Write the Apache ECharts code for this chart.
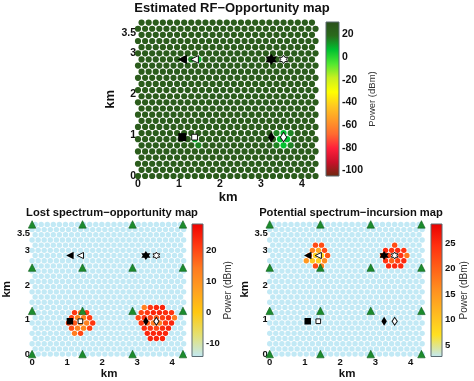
<!DOCTYPE html>
<html>
<head>
<meta charset="utf-8">
<style>
  html, body { margin: 0; padding: 0; background: #fff; }
  #chart { width: 474px; height: 381px; }
</style>
<script src="https://cdn.jsdelivr.net/npm/echarts@6/dist/echarts.min.js"></script>
</head>
<body>
<div id="chart"></div>
<script>
// hex grid, km
const rowKm = [0, 0.15, 0.3, 0.45, 0.6, 0.75, 0.9, 1.05, 1.2, 1.35, 1.5, 1.65, 1.8, 1.95, 2.1, 2.25, 2.4, 2.55, 2.7, 2.85, 3.0, 3.15, 3.3, 3.45, 3.6, 3.75];
const evenColKm = [0, 0.173, 0.346, 0.52, 0.693, 0.866, 1.039, 1.212, 1.386, 1.559, 1.732, 1.905, 2.078, 2.252, 2.425, 2.598, 2.771, 2.944, 3.118, 3.291, 3.464, 3.637, 3.81, 3.984, 4.157, 4.33];
const oddColKm = [0.087, 0.26, 0.433, 0.606, 0.779, 0.953, 1.126, 1.299, 1.472, 1.645, 1.819, 1.992, 2.165, 2.338, 2.511, 2.685, 2.858, 3.031, 3.204, 3.377, 3.55, 3.724, 3.897, 4.07, 4.243];

// level of every cell not listed below, dBm
const estimatedLevel = 25;
const lostLevel = -14.3;
const incursionLevel = 2.85;

// [row, col, dBm]
const estimatedCells = [
  [19, 7, 15], [19, 8, 8], [19, 20, 14],
  [6, 8, 10], [5, 8, 15],
  [7, 20, 6], [6, 20, 6], [6, 21, 6], [5, 20, 6], [7, 19, 15], [7, 21, 15], [5, 19, 15], [5, 21, 15]
];
const lostCells = [
  [8, 7, 22], [8, 8, 15], [8, 9, 22],
  [7, 6, 20], [7, 7, 12], [7, 8, 13], [7, 9, 21],
  [6, 6, 20], [6, 7, 18], [6, 8, 12], [6, 9, 13], [6, 10, 22],
  [5, 6, 19], [5, 7, 13], [5, 8, 12], [5, 9, 21],
  [4, 7, 14], [4, 8, 20],
  [9, 18, 13], [9, 19, 22], [9, 20, 24], [9, 21, 24],
  [8, 18, 20], [8, 19, 22], [8, 20, 24], [8, 21, 24], [8, 22, 23], [8, 23, 22],
  [7, 17, 20], [7, 18, 22], [7, 19, 21], [7, 20, 18], [7, 21, 21], [7, 22, 23], [7, 23, 14],
  [6, 18, 22], [6, 19, 18], [6, 20, 14], [6, 21, 14], [6, 22, 22], [6, 23, 24],
  [5, 18, 23], [5, 19, 22], [5, 20, 20], [5, 21, 23], [5, 22, 24],
  [4, 19, 24], [4, 20, 24], [4, 21, 24], [4, 22, 24],
  [3, 19, 24], [3, 20, 24], [3, 21, 24]
];
const incursionCells = [
  [21, 7, 22], [21, 8, 22],
  [20, 7, 17], [20, 8, 13], [20, 9, 22],
  [19, 6, 20], [19, 7, 9], [19, 8, 8], [19, 9, 21],
  [18, 6, 15], [18, 7, 10], [18, 8, 9], [18, 9, 16],
  [17, 7, 22], [17, 8, 17],
  [21, 20, 22],
  [20, 19, 25], [20, 20, 24], [20, 21, 25], [20, 22, 24],
  [19, 18, 20], [19, 19, 23], [19, 20, 18], [19, 21, 24], [19, 22, 18],
  [18, 19, 24], [18, 20, 20], [18, 21, 23], [18, 22, 25],
  [17, 19, 25], [17, 20, 25], [17, 21, 25]
];

const stationX = [0, 1.44, 2.87, 4.31];
const stationY = [0, 1.25, 2.5, 3.75];

// [x km, y km]
const squarePair = [[1.08, 0.95], [1.38, 0.95]];
const diamondPair = [[3.25, 0.95], [3.55, 0.95]];
const trianglePair = [[1.08, 2.85], [1.38, 2.85]];
const starPair = [[3.25, 2.85], [3.55, 2.85]];

const xTicks = [0, 1, 2, 3, 4];
const yTicks = [0, 1, 2, 3, 3.5];

const estimatedBar = [-100, -80, -60, -40, -20, 0, 20];
const lostBar = [-10, 0, 10, 20];
const incursionBar = [5, 10, 15, 20, 25];

// evenly spaced from min to max of each colour bar
const estimatedColors = ['#6b2a10', '#c8102a', '#ff1f3a', '#ff6a30', '#ff9a28', '#ffc820', '#ffff00', '#c8f020', '#50e830', '#00c030', '#2a6a1c', '#2b4f1c'];
const lostColors = ['#c2e9f5', '#e4e070', '#ffc811', '#ffa020', '#ff7a20', '#ff3a12', '#f00000'];
const incursionColors = ['#c2e9f5', '#ffe020', '#ffb820', '#ff9020', '#ff6018', '#ff3010', '#e80000'];

const starPath = 'path://M0,-10L2.9,-5L8.7,-5L5.8,0L8.7,5L2.9,5L0,10L-2.9,5L-8.7,5L-5.8,0L-8.7,-5L-2.9,-5Z';
const FONT = '"Liberation Sans", Arial, sans-serif';

function hexData(level, cells) {
  const over = {};
  cells.forEach(function (c) { over[c[0] + '_' + c[1]] = c[2]; });
  const out = [];
  rowKm.forEach(function (y, r) {
    (r % 2 ? oddColKm : evenColKm).forEach(function (x, c) {
      const key = r + '_' + c;
      out.push([x, y, key in over ? over[key] : level]);
    });
  });
  return out;
}

function stationData() {
  const out = [];
  stationY.forEach(function (y) { stationX.forEach(function (x) { out.push([x, y]); }); });
  return out;
}

const option = {
  animation: false,
  backgroundColor: '#fff',
  textStyle: { fontFamily: FONT },
  title: [], grid: [], xAxis: [], yAxis: [], visualMap: [], series: []
};

function addPanel(p) {
  const g = option.grid.length;

  // карта
  option.title.push({
    text: p.title, left: p.titleX, top: p.titleY, textAlign: 'center',
    textStyle: { fontFamily: FONT, fontWeight: 'bold', fontSize: p.titleSize, color: '#111' }
  });
  option.grid.push({ left: p.left, top: p.top, width: p.width, height: p.height });
  option.xAxis.push({
    gridIndex: g, type: 'value', min: 0, max: 4.4,
    name: 'km', nameLocation: 'middle', nameGap: p.xNameGap,
    nameTextStyle: { fontFamily: FONT, fontWeight: 'bold', fontSize: p.nameSize, color: '#111' },
    axisLine: { show: false }, axisTick: { show: false }, splitLine: { show: false },
    axisLabel: { customValues: xTicks, margin: 3, fontFamily: FONT, fontWeight: 'bold', fontSize: p.tickSize, color: '#111' }
  });
  option.yAxis.push({
    gridIndex: g, type: 'value', min: 0, max: 3.75,
    name: 'km', nameLocation: 'middle', nameGap: p.yNameGap,
    nameTextStyle: { fontFamily: FONT, fontWeight: 'bold', fontSize: p.nameSize, color: '#111' },
    axisLine: { show: false }, axisTick: { show: false }, splitLine: { show: false },
    axisLabel: { customValues: yTicks, margin: 2, fontFamily: FONT, fontWeight: 'bold', fontSize: p.tickSize, color: '#111' }
  });

  option.visualMap.push({
    show: false, type: 'continuous', seriesIndex: option.series.length, dimension: 2,
    min: p.barMin, max: p.barMax, inRange: { color: p.colors }
  });
  option.series.push({
    type: 'scatter', xAxisIndex: g, yAxisIndex: g, silent: true, clip: false,
    symbol: 'circle', symbolSize: p.dot, data: hexData(p.level, p.cells), z: 2,
    itemStyle: { opacity: 1 }
  });

  if (p.stations) {
    option.series.push({
      type: 'scatter', xAxisIndex: g, yAxisIndex: g, silent: true, clip: false,
      symbol: 'triangle', symbolSize: p.mark * 1.15, data: stationData(), z: 3,
      itemStyle: { opacity: 1, color: '#1c8c2c', borderColor: '#0e5a1a', borderWidth: 0.6 }
    });
  }

  // пары чёрный/белый
  const shapes = [
    { d: squarePair, s: 'rect', size: p.mark, white: p.mark * 0.72 },
    { d: diamondPair, s: 'diamond', size: [p.mark * 0.85, p.mark * 1.35], white: [p.mark * 0.8, p.mark * 1.2] },
    { d: trianglePair, s: 'triangle', rot: 90, size: p.mark * 1.15, white: p.mark * 0.95 },
    { d: starPair, s: starPath, size: p.mark * 1.4, white: p.mark * 1.05 }
  ];
  shapes.forEach(function (m) {
    option.series.push({
      type: 'scatter', xAxisIndex: g, yAxisIndex: g, silent: true, clip: false, z: 4,
      symbol: m.s, symbolRotate: m.rot || 0, symbolSize: m.size, data: [m.d[0]],
      itemStyle: { opacity: 1, color: '#000' }
    });
    option.series.push({
      type: 'scatter', xAxisIndex: g, yAxisIndex: g, silent: true, clip: false, z: 4,
      symbol: m.s, symbolRotate: m.rot || 0, symbolSize: m.white, data: [m.d[1]],
      itemStyle: { opacity: 1, color: '#fff', borderColor: '#111', borderWidth: 1 }
    });
  });

  // цветовая шкала
  const b = option.grid.length;
  option.grid.push({ left: p.barLeft, top: p.barTop, width: p.barWidth, height: p.barHeight });
  option.xAxis.push({ gridIndex: b, type: 'value', min: 0, max: 1, show: false });
  option.yAxis.push({
    gridIndex: b, type: 'value', position: 'right', min: p.barMin, max: p.barMax,
    name: 'Power (dBm)', nameLocation: 'middle', nameGap: p.barNameGap, nameRotate: 90,
    nameTextStyle: { fontFamily: FONT, fontSize: p.barNameSize, color: '#333' },
    axisLine: { show: false }, axisTick: { show: false }, splitLine: { show: false },
    axisLabel: { customValues: p.barTicks, margin: 3, fontFamily: FONT, fontWeight: 'bold', fontSize: p.tickSize, color: '#111' }
  });
  const stops = p.colors.map(function (c, i) {
    return { offset: i / (p.colors.length - 1), color: c };
  });
  option.series.push({
    type: 'custom', xAxisIndex: b, yAxisIndex: b, silent: true,
    data: [[0, p.barMin, 1, p.barMax]],
    renderItem: function (params, api) {
      const a = api.coord([api.value(0), api.value(3)]);
      const c = api.coord([api.value(2), api.value(1)]);
      return {
        type: 'rect',
        shape: { x: a[0], y: a[1], width: c[0] - a[0], height: c[1] - a[1] },
        style: {
          fill: new echarts.graphic.LinearGradient(0, 1, 0, 0, stops),
          stroke: '#5a6a70', lineWidth: 1
        }
      };
    }
  });
}

addPanel({
  title: 'Estimated RF\u2212Opportunity map', titleX: 227, titleY: -3, titleSize: 13,
  left: 138, top: 22.6, width: 180.4, height: 153.4,
  xNameGap: 14, yNameGap: 21, nameSize: 13, tickSize: 10.5,
  dot: 6.2, mark: 8, stations: false,
  level: estimatedLevel, cells: estimatedCells, colors: estimatedColors,
  barLeft: 326, barTop: 22, barWidth: 13, barHeight: 154,
  barMin: -105, barMax: 31, barTicks: estimatedBar, barNameGap: 20, barNameSize: 9.5
});
addPanel({
  title: 'Lost spectrum\u2212opportunity map', titleX: 107, titleY: 202, titleSize: 11.2,
  left: 31, top: 224.4, width: 155.1, height: 131.6,
  xNameGap: 11, yNameGap: 16, nameSize: 11.5, tickSize: 9.5,
  dot: 5.4, mark: 6.5, stations: true,
  level: lostLevel, cells: lostCells, colors: lostColors,
  barLeft: 192, barTop: 224, barWidth: 11, barHeight: 132.5,
  barMin: -14.3, barMax: 28.6, barTicks: lostBar, barNameGap: 20, barNameSize: 10
});
addPanel({
  title: 'Potential spectrum\u2212incursion map', titleX: 346, titleY: 202, titleSize: 11.2,
  left: 269.7, top: 224.4, width: 154.9, height: 131.6,
  xNameGap: 11, yNameGap: 16, nameSize: 11.5, tickSize: 9.5,
  dot: 5.4, mark: 6.5, stations: true,
  level: incursionLevel, cells: incursionCells, colors: incursionColors,
  barLeft: 431, barTop: 224, barWidth: 11, barHeight: 132.5,
  barMin: 2.85, barMax: 28.7, barTicks: incursionBar, barNameGap: 15, barNameSize: 10
});

echarts.init(document.getElementById('chart'), null, { renderer: 'canvas' }).setOption(option);
</script>
</body>
</html>
